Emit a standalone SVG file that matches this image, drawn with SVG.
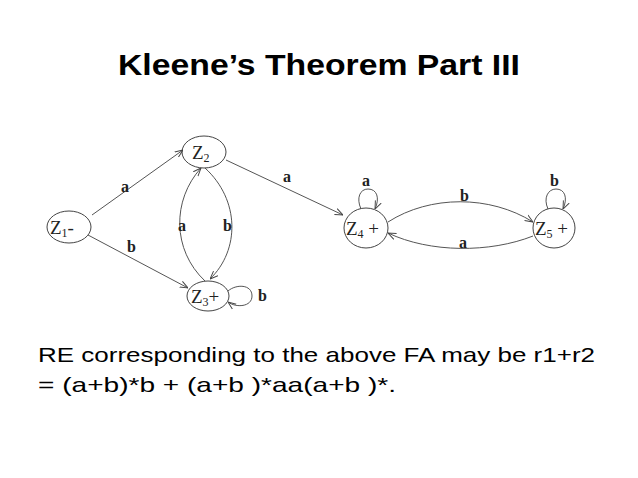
<svg xmlns="http://www.w3.org/2000/svg" width="638" height="478" viewBox="0 0 638 478">
<style>
.node ellipse{fill:none;stroke:#444;stroke-width:1}
.nl{font-family:"Liberation Serif",serif;font-size:19px;fill:#222}
.sub{font-size:12px}
.el{font-family:"Liberation Serif",serif;font-size:16px;font-weight:bold;fill:#222}
.edge{fill:none;stroke:#555;stroke-width:1;marker-end:url(#ah)}
.title{font-family:"Liberation Sans",sans-serif;font-weight:bold;font-size:30px;fill:#000}
.body{font-family:"Liberation Sans",sans-serif;font-size:21px;fill:#000}
</style>
<defs>
<marker id="ah" viewBox="0 0 10 10" refX="10" refY="5" markerWidth="8" markerHeight="8" orient="auto" markerUnits="userSpaceOnUse">
<path d="M0,1 L10,5 L0,9" fill="none" stroke="#444" stroke-width="1.2"/>
</marker>
</defs>
<rect width="638" height="478" fill="#fff"/>
<text class="title" x="319" y="75" text-anchor="middle" textLength="402" lengthAdjust="spacingAndGlyphs">Kleene’s Theorem Part III</text>

<g id="connectors">
<path class="edge" d="M92,215 L183,150"/>
<path class="edge" d="M88,235 L188,288"/>
<path class="edge" d="M226,160 L343,215"/>
<path class="edge" d="M205,281 C172,250 172,200 201,168"/>
<path class="edge" d="M205,168 C240,200 240,250 210,279"/>
<path class="edge" d="M228,291 C236,284 252,284 252,296 C252,307 236,308 228,302"/>
<path class="edge" d="M361,209 C356,198 360,189 368,189 C377,189 380,198 375,209"/>
<path class="edge" d="M548,209 C543,198 548,189 556,189 C565,189 568,198 563,209"/>
<path class="edge" d="M388,222 C430,195 490,195 533,222"/>
<path class="edge" d="M533,236 C490,253 430,253 388,233"/>
<text class="el" x="121" y="192">a</text>
<text class="el" x="127" y="252">b</text>
<text class="el" x="178" y="231">a</text>
<text class="el" x="223" y="231">b</text>
<text class="el" x="258" y="301">b</text>
<text class="el" x="283" y="182">a</text>
<text class="el" x="362" y="186">a</text>
<text class="el" x="550" y="186">b</text>
<text class="el" x="460" y="201">b</text>
<text class="el" x="459" y="248">a</text>
</g>

<g id="z1" class="node"><ellipse cx="69" cy="227" rx="22" ry="16"/><text class="nl" x="50" y="234">Z<tspan class="sub" dy="3">1</tspan><tspan dy="-3">-</tspan></text></g>
<g id="z2" class="node"><ellipse cx="204" cy="152" rx="22" ry="16"/><text class="nl" x="192" y="159">Z<tspan class="sub" dy="3">2</tspan></text></g>
<g id="z3" class="node"><ellipse cx="208" cy="296" rx="21" ry="15"/><text class="nl" x="191" y="303">Z<tspan class="sub" dy="3">3</tspan><tspan dy="-3">+</tspan></text></g>
<g id="z4" class="node"><ellipse cx="366" cy="228" rx="22" ry="20"/><text class="nl" x="346" y="235">Z<tspan class="sub" dy="3">4</tspan><tspan dy="-3"> +</tspan></text></g>
<g id="z5" class="node"><ellipse cx="554" cy="228" rx="21" ry="20"/><text class="nl" x="535" y="235">Z<tspan class="sub" dy="3">5</tspan><tspan dy="-3"> +</tspan></text></g>

<text class="body" x="38" y="362" textLength="557" lengthAdjust="spacingAndGlyphs">RE corresponding to the above FA may be r1+r2</text>
<text class="body" x="38" y="392" textLength="358" lengthAdjust="spacingAndGlyphs">= (a+b)*b + (a+b )*aa(a+b )*.</text>
</svg>
